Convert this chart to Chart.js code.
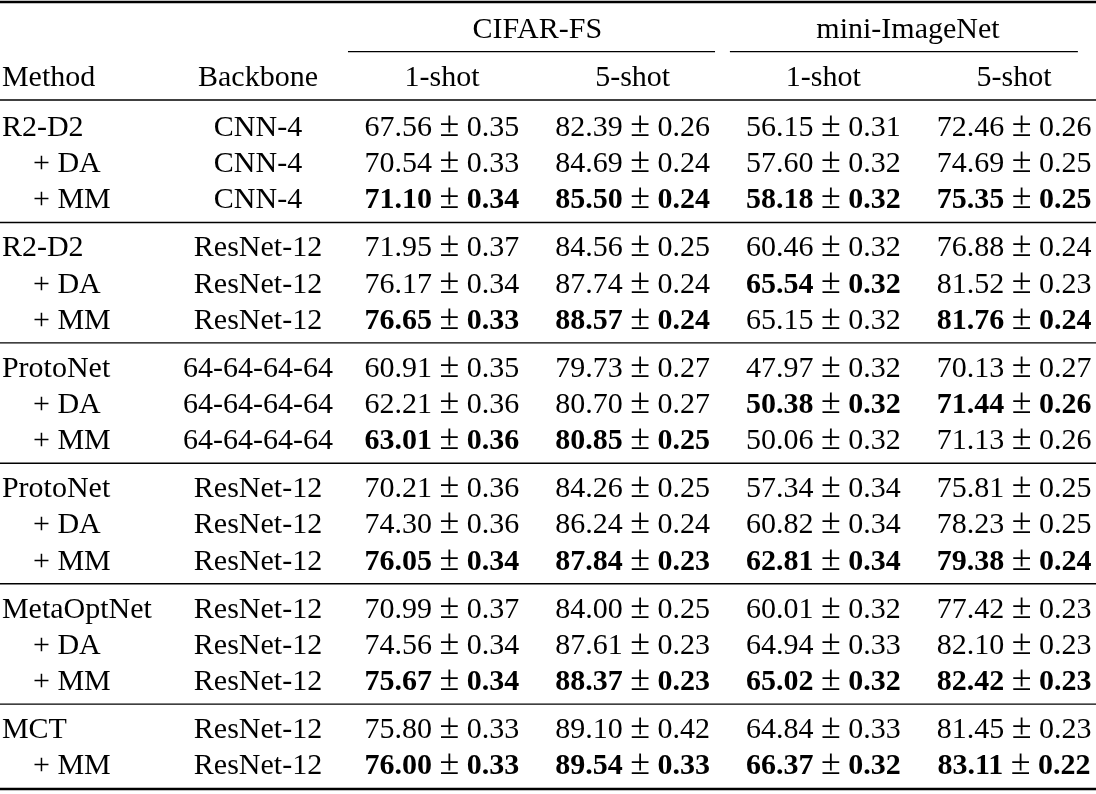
<!DOCTYPE html>
<html>
<head>
<meta charset="utf-8">
<script src="https://cdn.jsdelivr.net/npm/chart.js@4.4.0/dist/chart.umd.min.js"></script>
<style>
  html, body { margin: 0; padding: 0; background: #fff; }
  #table-chart { display: block; }
</style>
</head>
<body>
<canvas id="table-chart" width="1096" height="794"></canvas>
<script>
// --- Table data ---
const methods = ['R2-D2', '+ DA', '+ MM', 'R2-D2', '+ DA', '+ MM', 'ProtoNet', '+ DA', '+ MM',
  'ProtoNet', '+ DA', '+ MM', 'MetaOptNet', '+ DA', '+ MM', 'MCT', '+ MM'];
const backbones = ['CNN-4', 'CNN-4', 'CNN-4', 'ResNet-12', 'ResNet-12', 'ResNet-12',
  '64-64-64-64', '64-64-64-64', '64-64-64-64', 'ResNet-12', 'ResNet-12', 'ResNet-12',
  'ResNet-12', 'ResNet-12', 'ResNet-12', 'ResNet-12', 'ResNet-12'];
const groups = [0, 0, 0, 1, 1, 1, 2, 2, 2, 3, 3, 3, 4, 4, 4, 5, 5];

const datasetNames = ['CIFAR-FS', 'mini-ImageNet'];
const shotLabels = ['1-shot', '5-shot', '1-shot', '5-shot'];

const cifar1Mean = [67.56, 70.54, 71.10, 71.95, 76.17, 76.65, 60.91, 62.21, 63.01, 70.21, 74.30, 76.05, 70.99, 74.56, 75.67, 75.80, 76.00];
const cifar1Err  = [0.35, 0.33, 0.34, 0.37, 0.34, 0.33, 0.35, 0.36, 0.36, 0.36, 0.36, 0.34, 0.37, 0.34, 0.34, 0.33, 0.33];
const cifar5Mean = [82.39, 84.69, 85.50, 84.56, 87.74, 88.57, 79.73, 80.70, 80.85, 84.26, 86.24, 87.84, 84.00, 87.61, 88.37, 89.10, 89.54];
const cifar5Err  = [0.26, 0.24, 0.24, 0.25, 0.24, 0.24, 0.27, 0.27, 0.25, 0.25, 0.24, 0.23, 0.25, 0.23, 0.23, 0.42, 0.33];
const mini1Mean  = [56.15, 57.60, 58.18, 60.46, 65.54, 65.15, 47.97, 50.38, 50.06, 57.34, 60.82, 62.81, 60.01, 64.94, 65.02, 64.84, 66.37];
const mini1Err   = [0.31, 0.32, 0.32, 0.32, 0.32, 0.32, 0.32, 0.32, 0.32, 0.34, 0.34, 0.34, 0.32, 0.33, 0.32, 0.33, 0.32];
const mini5Mean  = [72.46, 74.69, 75.35, 76.88, 81.52, 81.76, 70.13, 71.44, 71.13, 75.81, 78.23, 79.38, 77.42, 82.10, 82.42, 81.45, 83.11];
const mini5Err   = [0.26, 0.25, 0.25, 0.24, 0.23, 0.24, 0.27, 0.26, 0.26, 0.25, 0.25, 0.24, 0.23, 0.23, 0.23, 0.23, 0.22];

// rows printed in bold (best of each block)
const cifar1Bold = [2, 5, 8, 11, 14, 16];
const cifar5Bold = [2, 5, 8, 11, 14, 16];
const mini1Bold  = [2, 4, 7, 11, 14, 16];
const mini5Bold  = [2, 5, 7, 11, 14, 16];

// --- Layout (scale units, not data) ---
const colMethod = -0.308;
const colIndent = -0.145;
const colBackbone = 1.035;
const colShots = [2, 3, 4, 5];
const colGroupHead = [2.5, 4.444];
const cmidSpans = [[1.507, 3.432], [3.510, 5.335]];
const groupGap = 0.317;
const headRowY = -1.377;
const groupHeadY = -2.70;
const topRuleY = -3.416;
const cmidRuleY = -2.047;
const headRuleY = -0.716;
const bottomRuleY = 18.264;

const FONT = '"Liberation Serif", "Times New Roman", serif';
const FONT_SIZE = 30;
const PM_SCALE = 1.2;   // the math plus-minus sign is drawn a bit larger
const PM_GAP = 0.25;    // space either side of it, in em
const INK = '#000';

function rowY(i) {
  return i + groups[i] * groupGap;
}

function textCell(t) {
  return [{ t: t, bold: false }];
}

function numCell(mean, err, bold) {
  return [
    { t: mean.toFixed(2), bold: bold },
    { t: '\u00b1', bold: false, pm: true },
    { t: err.toFixed(2), bold: bold }
  ];
}

function partFont(p) {
  const size = p.pm ? FONT_SIZE * PM_SCALE : FONT_SIZE;
  return (p.bold ? 'bold ' : '') + size + 'px ' + FONT;
}

function drawCell(ctx, parts, x, y, align) {
  const gap = FONT_SIZE * PM_GAP;
  const widths = parts.map(p => {
    ctx.font = partFont(p);
    return ctx.measureText(p.t).width;
  });
  let total = widths.reduce((a, b) => a + b, 0);
  parts.forEach(p => { if (p.pm) total += 2 * gap; });
  let cx = align === 'left' ? x : x - total / 2;
  parts.forEach((p, k) => {
    ctx.font = partFont(p);
    if (p.pm) cx += gap;
    ctx.fillText(p.t, cx, y + FONT_SIZE * 0.33);
    cx += widths[k];
    if (p.pm) cx += gap;
  });
}

// --- Datasets: one per table column, every cell is a point ---
const valueCols = [
  { mean: cifar1Mean, err: cifar1Err, bold: cifar1Bold },
  { mean: cifar5Mean, err: cifar5Err, bold: cifar5Bold },
  { mean: mini1Mean, err: mini1Err, bold: mini1Bold },
  { mean: mini5Mean, err: mini5Err, bold: mini5Bold }
];

const datasets = [];

datasets.push({
  label: 'Method',
  data: methods.map((m, i) => ({ x: m.startsWith('+') ? colIndent : colMethod, y: rowY(i) })),
  cells: methods.map(m => textCell(m)),
  align: 'left'
});

datasets.push({
  label: 'Backbone',
  data: backbones.map((b, i) => ({ x: colBackbone, y: rowY(i) })),
  cells: backbones.map(b => textCell(b)),
  align: 'center'
});

valueCols.forEach((col, c) => {
  datasets.push({
    label: shotLabels[c],
    data: col.mean.map((v, i) => ({ x: colShots[c], y: rowY(i) })),
    cells: col.mean.map((v, i) => numCell(v, col.err[i], col.bold.includes(i))),
    align: 'center'
  });
});

// header rows
datasets.push({
  label: 'header',
  data: [{ x: colMethod, y: headRowY }],
  cells: [textCell('Method')],
  align: 'left'
});
datasets.push({
  label: 'header2',
  data: [{ x: colBackbone, y: headRowY }].concat(colShots.map(x => ({ x: x, y: headRowY }))),
  cells: [textCell('Backbone')].concat(shotLabels.map(s => textCell(s))),
  align: 'center'
});
datasets.push({
  label: 'groups',
  data: colGroupHead.map(x => ({ x: x, y: groupHeadY })),
  cells: datasetNames.map(n => textCell(n)),
  align: 'center'
});

datasets.forEach(ds => {
  ds.pointRadius = 0;
  ds.pointHoverRadius = 0;
  ds.showLine = false;
});

// --- Plugin: rules and cell text ---
const tablePlugin = {
  id: 'tableText',
  beforeDatasetsDraw(chart) {
    const ctx = chart.ctx;
    const xs = chart.scales.x;
    const ys = chart.scales.y;
    function hline(x0, x1, v, w) {
      const py = ys.getPixelForValue(v);
      ctx.beginPath();
      ctx.lineWidth = w;
      ctx.moveTo(x0, py);
      ctx.lineTo(x1, py);
      ctx.stroke();
    }
    ctx.save();
    ctx.strokeStyle = INK;
    hline(xs.left, xs.right, topRuleY, 2.4);
    hline(xs.left, xs.right, headRuleY, 1.4);
    hline(xs.left, xs.right, bottomRuleY, 2.4);
    cmidSpans.forEach(s => hline(xs.getPixelForValue(s[0]), xs.getPixelForValue(s[1]), cmidRuleY, 1.2));
    for (let i = 0; i < groups.length - 1; i++) {
      if (groups[i] !== groups[i + 1]) {
        hline(xs.left, xs.right, (rowY(i) + rowY(i + 1)) / 2, 1.4);
      }
    }
    ctx.restore();
  },
  afterDatasetsDraw(chart) {
    const ctx = chart.ctx;
    ctx.save();
    ctx.fillStyle = INK;
    ctx.textBaseline = 'alphabetic';
    ctx.textAlign = 'left';
    chart.data.datasets.forEach((ds, di) => {
      const meta = chart.getDatasetMeta(di);
      meta.data.forEach((pt, j) => drawCell(ctx, ds.cells[j], pt.x, pt.y, ds.align));
    });
    ctx.restore();
  }
};

const ctx = document.getElementById('table-chart').getContext('2d');
new Chart(ctx, {
  type: 'scatter',
  data: { datasets },
  options: {
    responsive: false,
    animation: false,
    events: [],
    layout: { padding: 0 },
    plugins: { legend: { display: false }, tooltip: { enabled: false } },
    scales: {
      x: { type: 'linear', display: false, min: -0.318, max: 5.430 },
      y: { type: 'linear', display: false, reverse: true, min: -3.471, max: 18.402 }
    }
  },
  plugins: [tablePlugin]
});
</script>
</body>
</html>
